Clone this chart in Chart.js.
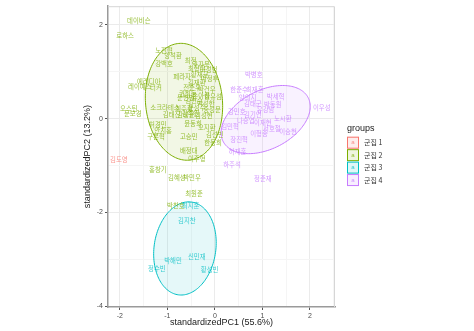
<!DOCTYPE html>
<html><head><meta charset="utf-8">
<script src="https://cdn.jsdelivr.net/npm/chart.js@4/dist/chart.umd.min.js"></script>
<style>html,body{margin:0;padding:0;background:#fff;}#wrap{width:474px;height:331px;position:relative;}</style>
</head><body><div id="wrap"><canvas id="c" width="474" height="331"></canvas></div>
<script>
// ---- data ----
const groupNames = ['군집 1', '군집 2', '군집 3', '군집 4'];
const groupColors = ['#F8766D', '#7CAE00', '#00BFC4', '#C77CFF'];

const g1Labels = ['김도영'];
const g1PC1 = [-2.02];
const g1PC2 = [-0.87];

const g2Labels = ['데이비슨','로하스','노진혁','양석환','강백호','최정','구자욱','최형우','나성범','페라자','이정후','김재환','전준우','박건우','권희동','손아섭','한유섬','김현수','박성한','문성주','송성문','김주원','김성현','윤동희','오지환','김선빈','한동희','에레디아','레이예스','터커','오스틴','문보경','소크라테스','최주환','김성윤','김태진','허경민','안치홍','구본혁','고승민','배정대','이주형','홍창기','김혜성','박민우','최원준','박찬호','황재균','문현빈'];
const g2PC1 = [-1.60,-1.89,-1.07,-0.88,-1.07,-0.51,-0.29,-0.38,-0.13,-0.69,-0.11,-0.38,-0.48,-0.17,-0.57,-0.29,-0.04,-0.44,-0.19,-0.38,-0.06,-0.51,-0.23,-0.46,-0.17,0.00,-0.04,-1.39,-1.58,-1.24,-1.81,-1.73,-1.05,-0.65,-0.61,-0.91,-1.20,-1.09,-1.24,-0.55,-0.55,-0.38,-1.20,-0.80,-0.48,-0.44,-0.82,-0.32,-0.61];
const g2PC2 = [2.09,1.78,1.46,1.35,1.18,1.25,1.16,1.06,1.04,0.89,0.85,0.78,0.66,0.63,0.53,0.49,0.47,0.38,0.32,0.23,0.19,0.11,0.06,-0.11,-0.19,-0.34,-0.51,0.80,0.68,0.66,0.21,0.11,0.23,0.21,0.08,0.08,-0.13,-0.25,-0.38,-0.38,-0.68,-0.85,-1.08,-1.25,-1.25,-1.59,-1.86,0.95,0.44];

const g3Labels = ['최지훈','김지찬','신민재','박해민','정수빈','황성빈'];
const g3PC1 = [-0.51,-0.59,-0.38,-0.88,-1.22,-0.11];
const g3PC2 = [-1.86,-2.18,-2.94,-3.02,-3.19,-3.23];

const g4Labels = ['박병호','한준수','최재훈','양의지','김태군','박세혁','박동원','유강남','김기연','강민호','나승엽','이재현','노시환','서호철','이형종','이승현','장진혁','하재훈','하주석','정준재','이우성','김민혁'];
const g4PC1 = [0.82,0.51,0.84,0.69,0.80,1.28,1.22,1.07,0.80,0.46,0.65,1.01,1.43,1.20,0.93,1.54,0.51,0.48,0.36,1.01,2.25,0.32];
const g4PC2 = [0.95,0.61,0.61,0.44,0.32,0.47,0.30,0.19,0.08,0.15,-0.04,-0.08,0.00,-0.21,-0.32,-0.27,-0.44,-0.70,-0.97,-1.27,0.23,-0.17];

// normal-probability ellipses (group index, centre, semi-axes, rotation in degrees)
const ellipseGroup = [1, 2, 3];
const ellipseCX = [-0.65, -0.63, 1.07];
const ellipseCY = [0.36, -2.77, -0.02];
const ellipseA = [1.25, 1.00, 1.01];
const ellipseB = [0.81, 0.65, 0.625];
const ellipseAngle = [95, 82, 28];

const xGridValues = [-2, -1.5, -1, -0.5, 0, 0.5, 1, 1.5, 2, 2.5];
const xTickLabels = [-2, -1, 0, 1, 2];
const yGridValues = [-4, -3, -2, -1, 0, 1, 2];
const yTickLabels = [-4, -2, 0, 2];
const xTitle = 'standardizedPC1 (55.6%)';
const yTitle = 'standardizedPC2 (13.2%)';
const legendTitle = 'groups';

// ---- build ----
const allLabels = [g1Labels, g2Labels, g3Labels, g4Labels];
const allX = [g1PC1, g2PC1, g3PC1, g4PC1];
const allY = [g1PC2, g2PC2, g3PC2, g4PC2];

function rgba(hex, a) {
  const n = parseInt(hex.slice(1), 16);
  return `rgba(${(n>>16)&255},${(n>>8)&255},${n&255},${a})`;
}

const datasets = allLabels.map((labs, g) => ({
  label: groupNames[g],
  data: labs.map((_, i) => ({ x: allX[g][i], y: allY[g][i] })),
  pointRadius: 0,
  pointHoverRadius: 0,
  backgroundColor: groupColors[g],
  borderColor: groupColors[g]
}));

const LABEL_FONT = '6.4px "Noto Sans CJK KR", sans-serif';
const SANS = '"Liberation Sans", Arial, sans-serif';

const custom = {
  id: 'custom',
  beforeDatasetsDraw(chart) {
    const ctx = chart.ctx, xs = chart.scales.x, ys = chart.scales.y;
    for (let k = 0; k < ellipseGroup.length; k++) {
      const col = groupColors[ellipseGroup[k]];
      const th = ellipseAngle[k] * Math.PI / 180;
      ctx.save();
      ctx.beginPath();
      for (let i = 0; i <= 160; i++) {
        const p = i / 160 * 2 * Math.PI;
        const dx = ellipseA[k] * Math.cos(p), dy = ellipseB[k] * Math.sin(p);
        const vx = ellipseCX[k] + dx * Math.cos(th) - dy * Math.sin(th);
        const vy = ellipseCY[k] + dx * Math.sin(th) + dy * Math.cos(th);
        const px = xs.getPixelForValue(vx), py = ys.getPixelForValue(vy);
        if (i) ctx.lineTo(px, py); else ctx.moveTo(px, py);
      }
      ctx.closePath();
      ctx.fillStyle = rgba(col, 0.1);
      ctx.fill();
      ctx.strokeStyle = col;
      ctx.lineWidth = 1;
      ctx.stroke();
      ctx.restore();
    }
  },
  afterDatasetsDraw(chart) {
    const ctx = chart.ctx;
    ctx.save();
    ctx.font = LABEL_FONT;
    ctx.textAlign = 'center';
    ctx.textBaseline = 'middle';
    chart.data.datasets.forEach((ds, g) => {
      const meta = chart.getDatasetMeta(g);
      ctx.fillStyle = rgba(groupColors[g], 0.78);
      meta.data.forEach((el, i) => {
        ctx.fillText(allLabels[g][i], el.x, el.y);
      });
    });
    ctx.restore();
  },
  afterDraw(chart) {
    const ctx = chart.ctx, a = chart.chartArea;
    ctx.save();
    // panel border top/right
    ctx.strokeStyle = '#d6d6d6';
    ctx.lineWidth = 1;
    ctx.beginPath();
    ctx.moveTo(a.left, a.top + 0.5); ctx.lineTo(a.right - 0.5, a.top + 0.5); ctx.lineTo(a.right - 0.5, a.bottom);
    ctx.stroke();
    // axis titles
    ctx.fillStyle = '#1a1a1a';
    ctx.font = '9px ' + SANS;
    ctx.textAlign = 'center';
    ctx.textBaseline = 'middle';
    ctx.fillText(xTitle, (a.left + a.right) / 2, 322.5);
    ctx.save();
    ctx.translate(88, (a.top + a.bottom) / 2);
    ctx.rotate(-Math.PI / 2);
    ctx.fillText(yTitle, 0, 0);
    ctx.restore();
    // legend
    ctx.textAlign = 'left';
    ctx.font = '9px ' + SANS;
    ctx.fillText(legendTitle, 347, 129);
    for (let g = 0; g < groupNames.length; g++) {
      const cy = 142.7 + g * 12.45;
      const col = groupColors[g];
      ctx.fillStyle = '#ffffff';
      ctx.fillRect(347, cy - 6, 12, 12);
      ctx.fillStyle = rgba(col, 0.12);
      ctx.fillRect(347, cy - 6, 12, 12);
      ctx.strokeStyle = col;
      ctx.lineWidth = 1;
      ctx.strokeRect(347.5, cy - 5.5, 11, 11);
      ctx.fillStyle = rgba(col, 0.8);
      ctx.font = '6px ' + SANS;
      ctx.textAlign = 'center';
      ctx.fillText('a', 353, cy);
      ctx.fillStyle = '#333333';
      ctx.font = '7px "Noto Sans CJK KR", sans-serif';
      ctx.textAlign = 'left';
      ctx.fillText(groupNames[g], 364, cy);
    }
    ctx.restore();
  }
};

new Chart(document.getElementById('c'), {
  type: 'scatter',
  data: { datasets },
  options: {
    responsive: false,
    animation: false,
    events: [],
    layout: { padding: { left: 0, right: 139, top: 3, bottom: 0 } },
    plugins: { legend: { display: false }, tooltip: { enabled: false }, title: { display: false } },
    scales: {
      x: {
        type: 'linear', min: -2.25, max: 2.53,
        afterBuildTicks: s => { s.ticks = xGridValues.map(v => ({ value: v })); },
        afterFit: s => { s.height = 24; },
        ticks: {
          autoSkip: false, maxRotation: 0, padding: 2,
          color: '#4d4d4d', font: { size: 7, family: SANS },
          callback: v => xTickLabels.includes(v) ? String(v) : ''
        },
        grid: {
          color: c => xTickLabels.includes(c.tick.value) ? '#ebebeb' : '#f5f5f5',
          tickColor: c => xTickLabels.includes(c.tick.value) ? '#555' : 'rgba(0,0,0,0)',
          tickLength: 3, lineWidth: 1
        },
        border: { display: true, color: '#9a9a9a', width: 1.5 }
      },
      y: {
        type: 'linear', min: -4.02, max: 2.4,
        afterBuildTicks: s => { s.ticks = yGridValues.map(v => ({ value: v })); },
        afterFit: s => { s.width = 108; },
        ticks: {
          autoSkip: false, padding: 2,
          color: '#4d4d4d', font: { size: 7, family: SANS },
          callback: v => yTickLabels.includes(v) ? String(v) : ''
        },
        grid: {
          color: c => yTickLabels.includes(c.tick.value) ? '#ebebeb' : '#f5f5f5',
          tickColor: c => yTickLabels.includes(c.tick.value) ? '#555' : 'rgba(0,0,0,0)',
          tickLength: 3, lineWidth: 1
        },
        border: { display: true, color: '#9a9a9a', width: 1.5 }
      }
    }
  },
  plugins: [custom]
});
</script></body></html>
